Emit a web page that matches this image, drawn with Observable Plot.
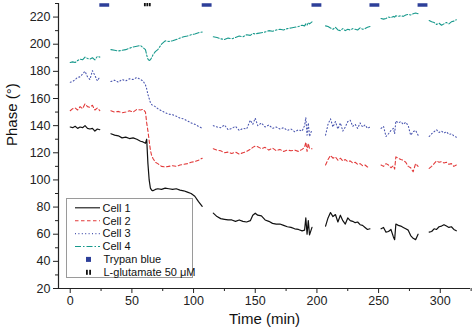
<!DOCTYPE html>
<html>
<head>
<meta charset="utf-8">
<script src="https://cdn.jsdelivr.net/npm/d3@7"></script>
<script src="https://cdn.jsdelivr.net/npm/@observablehq/plot@0.6"></script>
<style>
  html, body { margin: 0; padding: 0; background: #fff; }
  #wrap { position: relative; width: 474px; height: 333px; font-family: "Liberation Sans", Arial, sans-serif; }
  #legend { position: absolute; left: 66px; top: 198px; }
</style>
</head>
<body>
<div id="wrap"><div id="chart"></div><div id="legend"></div></div>
<script>
// Time (min); entries with null values break the lines (gaps between recordings)
const times = [
  0,2,4,6,8,10,12,14,16,18,20,22,24,
  28,
  33,36,39,42,45,48,51,54,57,59,61,62,63,64,65,66,67,69,71,74,77,80,83,86,89,92,95,98,101,104,107,
  111,
  116,119,122,125,128,131,134,137,140,143,146,148,150,152,155,158,161,164,167,170,173,176,179,182,185,188,190,191,192,193,194,196,
  201,
  207,209,211,213,215,217,219,221,223,225,227,229,231,233,235,237,239,241,243,
  247,
  252,254,256,258,260,262,263,264,266,268,270,272,274,276,278,280,282,
  286,
  291,293,295,297,299,301,303,305,307,309,311,313
];
const cell1 = [
  139,138.5,139.5,138,139,138.5,140,138,137.5,138,136,137.5,137,
  null,
  134,133,132.5,131,131.5,130.5,131,130,128.5,128,127,130,112,100,94,92.5,92,93,93.5,93,94,93.5,93,93.5,92.5,92,91,90,88,84,80.5,
  null,
  75.5,73,71.5,71,70.5,70.5,69.5,70.5,69.5,69,70,74,75.5,74,73.5,70.5,69.5,68,67.5,67.5,66.5,65.5,65,64,63.5,62.5,63,72,60,70,59.5,65,
  null,
  66,72,76,73,74.5,69,74,70,67.5,72,70,69.5,68.5,69,67,66.5,65,63.5,64,
  null,
  64,65,61.5,62,63.5,58,56,67.5,66.5,66,65,64,63,59,57,56,60,
  null,
  61.5,62,64,63.5,65.5,66,67,66,65,65.5,63.5,62.5
];
const cell2 = [
  151,152.5,153,151.5,154,152.5,156,154,153.5,155,151.5,153,151,
  null,
  151,150,150.5,149.5,150,151,150,152,151.5,152,150,142,136,129,122,118,116,113,112,110,109.5,110,110.5,110,111,111.5,112,113,113.5,114.5,116,
  null,
  123,122,121.5,120,120.5,119.5,120.5,119,120,121,122.5,124,125,124.5,123,124,122,123.5,121.5,122.5,121,122,121.5,122,121,122.5,124,128,121,127,123,123,
  null,
  111,115,118,116,117,114.5,116,114,115,113.5,114,112.5,113,111.5,112,110.5,111,109.5,110,
  null,
  111,110,112,111,109,110.5,108,117,116,115,114.5,113,110,109,106,112,110,
  null,
  108.5,110,112,114,113,113.5,112.5,113,111.5,112,110,111
];
const cell3 = [
  172,172.5,174,175.5,176,178,180,176,174,180.5,177,173,176,
  null,
  172.5,173.5,172,174,173,174.5,174,175.5,174,173,170,167,163,160,157,155.5,155,154,152.5,151,149.5,148.5,148,147,145.5,145,143.5,142,141,139.5,138,
  null,
  140,139,138.5,140.5,137,138,139.5,136.5,138,137.5,144,141,145.5,140,142,139,140.5,138,139,137.5,138.5,136.5,137.5,135.5,137,136,140,146,133,142,132,137,
  null,
  133,141,145,139,143,137.5,142,136,139,143,144,139.5,141,138,142,139,140.5,138,139,
  null,
  138,139.5,132,134,136.5,138,134,143.5,142,143,141,142.5,140,133,135.5,136.5,133,
  null,
  132,134,135.5,137,135,136,134.5,135.5,133.5,134,132.5,131.5
];
const cell4 = [
  186.5,187,186.5,188,189,188.5,190.5,189.5,189,190,188.5,191,190.5,
  null,
  196,195.5,195,195.5,196,197,198,198.5,199,197.5,196,192,189,188,188.5,190,192,194.5,196,200,202.5,202,202.5,203.5,204.5,205.5,206,207,207.5,208.5,209,
  null,
  205.5,205,204,203.5,204.5,204,205,206,205.5,207,206.5,208,207.5,208,208.5,209,210,209.5,210.5,211,210.5,211.5,212,212.5,213,214,213.5,215,214,216,215,216.5,
  null,
  213.5,213,212,211,212.5,210.5,210,211.5,210,211,210.5,211.5,211,210.5,212,211,211.5,212.5,213,
  null,
  219,218.5,219,220,219.5,220.5,220,221,220.5,221,220.5,221.5,222,221.5,222.5,223,222.5,
  null,
  217.5,216.5,216,214.5,215.5,214,215,216,215,216.5,217,218
];
const trypanTimes = [28, 111, 200, 247, 286];
const glutamateTimes = [60.5, 62.5, 64.5];
const cellNames = ["Cell 1", "Cell 2", "Cell 3", "Cell 4"];
const xTicks = [0, 50, 100, 150, 200, 250, 300];
const xMinor = [25, 75, 125, 175, 225, 275, 325];
const yTicks = [20, 40, 60, 80, 100, 120, 140, 160, 180, 200, 220];
const yMinor = [30, 50, 70, 90, 110, 130, 150, 170, 190, 210, 230];

const colors = ["#111111", "#e23a3a", "#4b57b0", "#17998c"];
const dashes = [null, "3.5,2.5", "1,2.4", "6,2,1.5,2"];
const cells = [cell1, cell2, cell3, cell4];

const rows = cells.map(c => times.map((t, i) => ({t, v: c[i]})));

const markerY = 228.9;
const fontFamily = '"Liberation Sans", Arial, sans-serif';

const plot = Plot.plot({
  width: 474,
  height: 333,
  marginLeft: 58,
  marginRight: 4,
  marginTop: 3,
  marginBottom: 45,
  style: {fontFamily, fontSize: "12px", color: "#222", background: "#fff"},
  x: {domain: [-9.5, 324.5], label: null},
  y: {domain: [20, 230], label: null},
  marks: [
    ...rows.map((r, k) => Plot.line(r, {
      x: "t", y: "v", stroke: colors[k], strokeWidth: k === 0 ? 1.2 : 1.1,
      strokeDasharray: dashes[k], curve: "linear"
    })),
    Plot.ruleY(trypanTimes, {
      x1: d => d - 4, x2: d => d + 4, y: () => markerY, stroke: "#2d3f99", strokeWidth: 3.5
    }),
    Plot.ruleX(glutamateTimes, {
      x: d => d, y1: () => 227.6, y2: () => 230, stroke: "#111", strokeWidth: 1.8
    }),
    Plot.axisX(xTicks, {tickSize: 5, tickPadding: 3, fontSize: 12.5, label: null}),
    Plot.axisX(xMinor, {tickSize: 3, tickFormat: () => "", label: null}),
    Plot.axisY(yTicks, {tickSize: 5, tickPadding: 3, fontSize: 12.5, label: null}),
    Plot.axisY(yMinor, {tickSize: 3, tickFormat: () => "", label: null}),
    Plot.ruleY([20], {stroke: "#222", strokeWidth: 1.2}),
    Plot.ruleX([-9.5], {stroke: "#222", strokeWidth: 1.2}),
    Plot.text(["Time (min)"], {frameAnchor: "bottom", dy: 35, fontSize: 15, fill: "#111"}),
    Plot.text(["Phase (°)"], {frameAnchor: "left", dx: -46, rotate: -90, fontSize: 15, fill: "#111"})
  ]
});
document.getElementById("chart").appendChild(plot);

// Legend (inside the plot area, lower left)
const lw = 127, lh = 80;
const leg = d3.select("#legend").append("svg")
  .attr("width", lw).attr("height", lh)
  .style("overflow", "visible")
  .style("font-family", fontFamily).style("font-size", "11px");
leg.append("rect").attr("x", 0.5).attr("y", 0.5).attr("width", lw - 1).attr("height", lh - 1)
  .attr("fill", "#fff").attr("stroke", "#9a9a9a");
const rowY = i => 9.8 + i * 12.9;
cellNames.forEach((name, k) => {
  leg.append("line").attr("x1", 9).attr("x2", 34).attr("y1", rowY(k)).attr("y2", rowY(k))
    .attr("stroke", colors[k]).attr("stroke-width", 1.1)
    .attr("stroke-dasharray", dashes[k]);
  leg.append("text").attr("x", 36.5).attr("y", rowY(k)).attr("dy", "0.35em").attr("fill", "#111").text(name);
});
leg.append("rect").attr("x", 20).attr("y", rowY(4) - 2.5).attr("width", 5).attr("height", 5).attr("fill", "#2d3f99");
leg.append("text").attr("x", 37.5).attr("y", rowY(4)).attr("dy", "0.35em").attr("fill", "#111").text("Trypan blue");
leg.append("rect").attr("x", 20).attr("y", rowY(5) - 2.5).attr("width", 1.8).attr("height", 5).attr("fill", "#111");
leg.append("rect").attr("x", 23.2).attr("y", rowY(5) - 2.5).attr("width", 1.8).attr("height", 5).attr("fill", "#111");
leg.append("text").attr("x", 37.5).attr("y", rowY(5)).attr("dy", "0.35em").attr("fill", "#111").text("L-glutamate 50 μM");
</script>
</body>
</html>
